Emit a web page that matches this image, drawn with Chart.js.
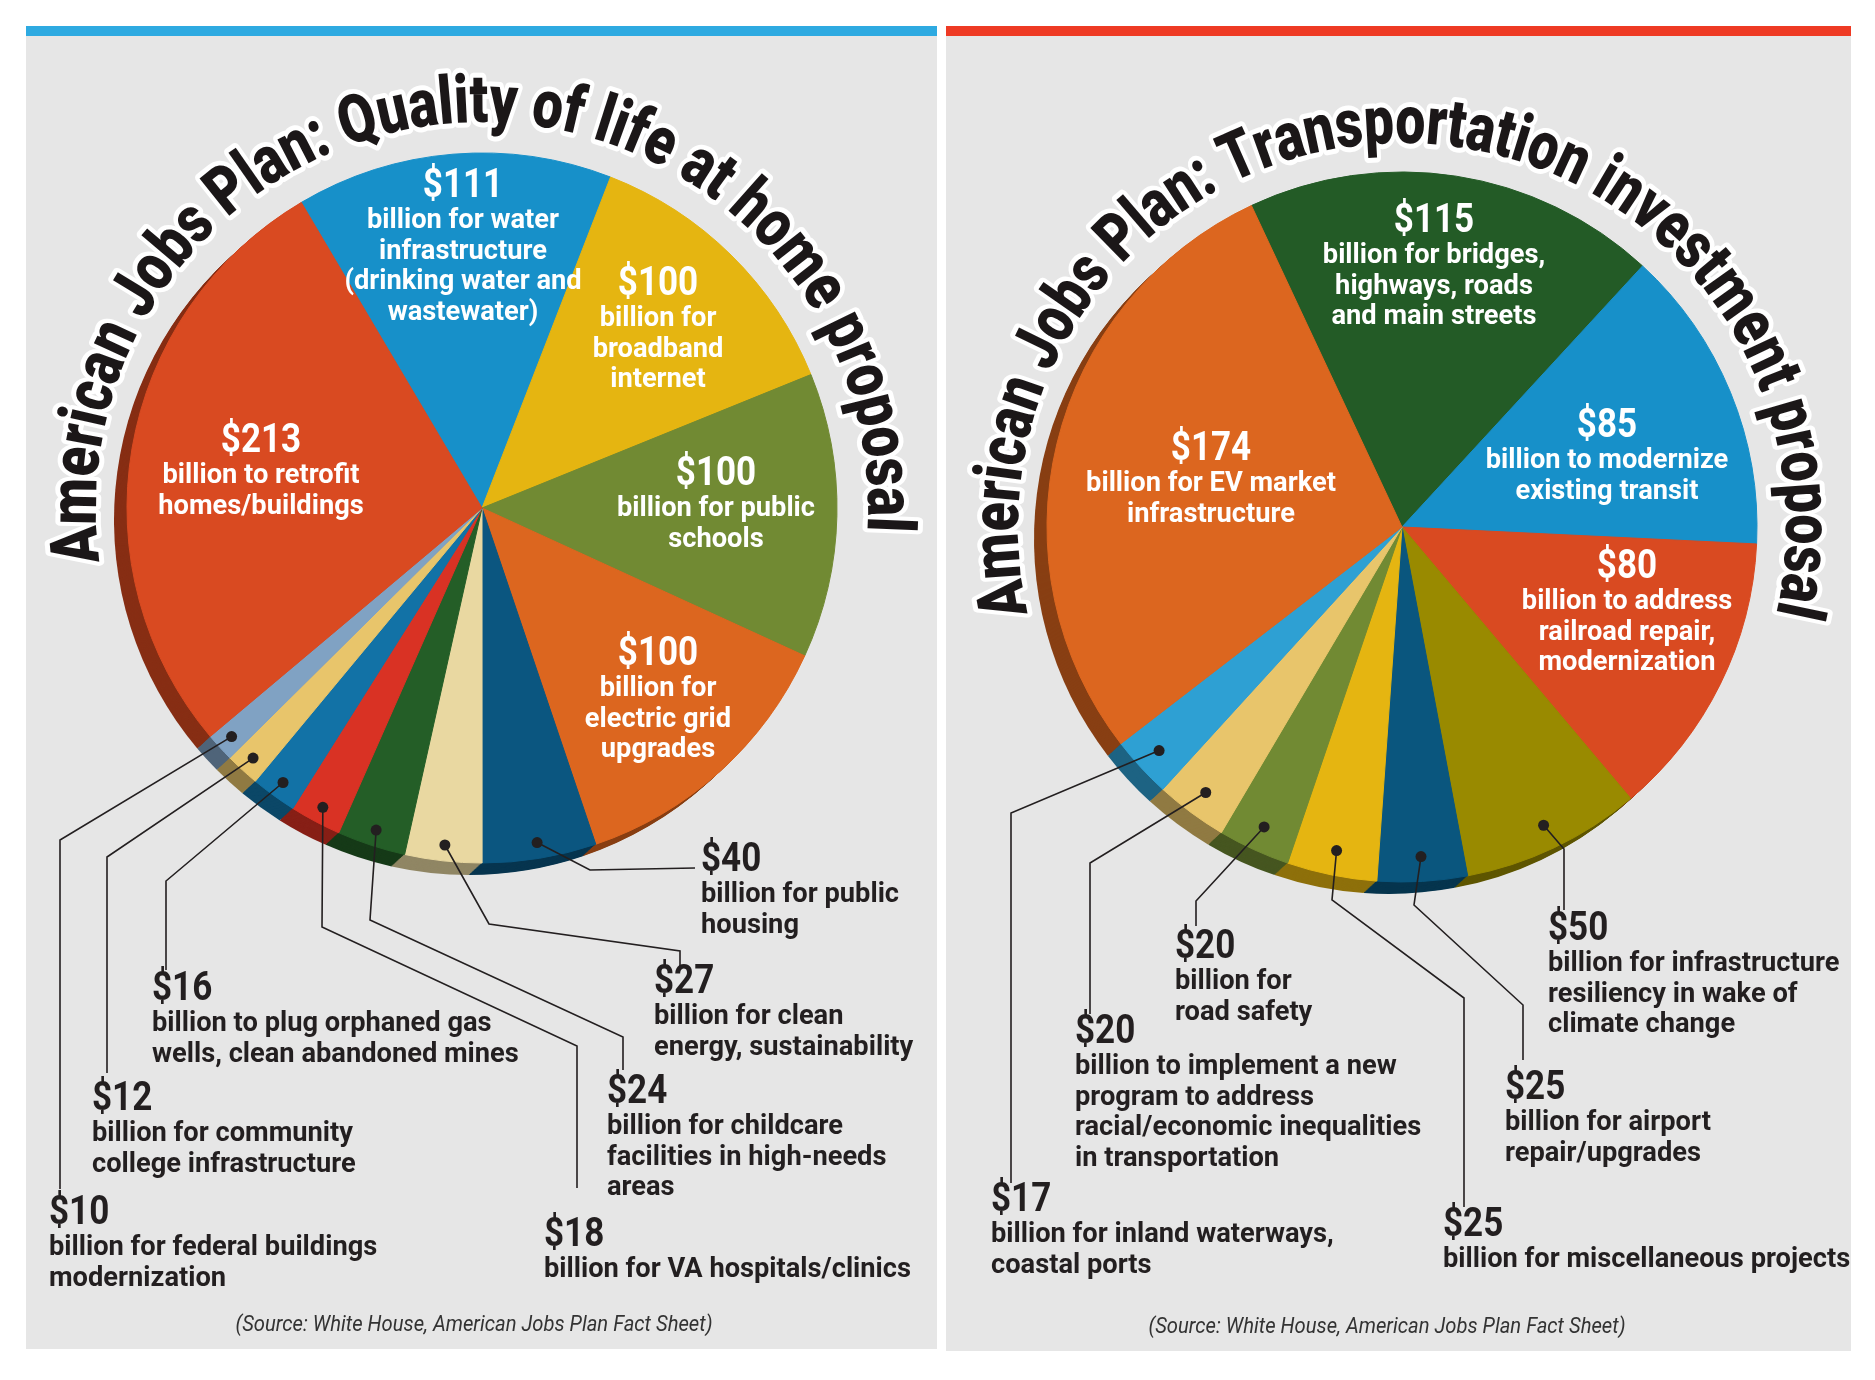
<!DOCTYPE html>
<html>
<head>
<meta charset="utf-8">
<title>American Jobs Plan</title>
<script src="https://cdn.jsdelivr.net/npm/chart.js@4.4.1/dist/chart.umd.min.js"></script>
<style>
  body { margin: 0; background: #fff; width: 1875px; height: 1380px; position: relative; overflow: hidden; }
  .panel { position: absolute; background: #e6e6e6; box-sizing: border-box; border-top: 10px solid; }
  #homePanel { left: 26px; top: 26px; width: 911px; height: 1323px; border-top-color: #2eaae1; }
  #transPanel { left: 946px; top: 26px; width: 905px; height: 1325px; border-top-color: #ee3a24; }
  canvas { position: absolute; left: 0; top: 0; }
</style>
</head>
<body>
<div class="panel" id="homePanel"></div>
<div class="panel" id="transPanel"></div>
<canvas id="homeChart" width="1875" height="1380"></canvas>
<canvas id="transChart" width="1875" height="1380"></canvas>
<script>
// ---- Quality of life at home (billions of dollars, clockwise from the top slice) ----
const homeLabels = ['Water infrastructure', 'Broadband internet', 'Public schools', 'Electric grid upgrades',
  'Public housing', 'Clean energy, sustainability', 'Childcare facilities', 'VA hospitals/clinics',
  'Orphaned gas wells, abandoned mines', 'Community college infrastructure', 'Federal buildings modernization',
  'Retrofit homes/buildings'];
const homeValues = [111, 100, 100, 100, 40, 27, 24, 18, 16, 12, 10, 213];
const homeColors = ['#1790c9', '#e5b511', '#718a33', '#dc661f', '#0b5680', '#e9d8a1',
  '#245e27', '#d93224', '#1272a6', '#e8c56b', '#80a2c3', '#d94a21'];
const homeNotes = [
  ['billion for water', 'infrastructure', '(drinking water and', 'wastewater)'],
  ['billion for', 'broadband', 'internet'],
  ['billion for public', 'schools'],
  ['billion for', 'electric grid', 'upgrades'],
  ['billion for public', 'housing'],
  ['billion for clean', 'energy, sustainability'],
  ['billion for childcare', 'facilities in high-needs', 'areas'],
  ['billion for VA hospitals/clinics'],
  ['billion to plug orphaned gas', 'wells, clean abandoned mines'],
  ['billion for community', 'college infrastructure'],
  ['billion for federal buildings', 'modernization'],
  ['billion to retrofit', 'homes/buildings']
];

// ---- Transportation investment (billions of dollars, clockwise from the top slice) ----
const transLabels = ['Bridges, highways, roads, main streets', 'Modernize existing transit', 'Railroad repair, modernization',
  'Infrastructure resiliency', 'Airport repair/upgrades', 'Miscellaneous projects', 'Road safety',
  'Racial/economic inequalities program', 'Inland waterways, coastal ports', 'EV market infrastructure'];
const transValues = [115, 85, 80, 50, 25, 25, 20, 20, 17, 174];
const transColors = ['#235b26', '#1790c9', '#d94a21', '#998a00', '#0a567e', '#e5b511',
  '#718a33', '#e8c56b', '#2ea0d3', '#dc661f'];
const transNotes = [
  ['billion for bridges,', 'highways, roads', 'and main streets'],
  ['billion to modernize', 'existing transit'],
  ['billion to address', 'railroad repair,', 'modernization'],
  ['billion for infrastructure', 'resiliency in wake of', 'climate change'],
  ['billion for airport', 'repair/upgrades'],
  ['billion for miscellaneous projects'],
  ['billion for', 'road safety'],
  ['billion to implement a new', 'program to address', 'racial/economic inequalities', 'in transportation'],
  ['billion for inland waterways,', 'coastal ports'],
  ['billion for EV market', 'infrastructure']
];

const sourceText = '(Source: White House, American Jobs Plan Fact Sheet)';

// ---- layout (page pixels) ----
const homeInner = [
  { i: 0, x: 463, y: 187 }, { i: 1, x: 658, y: 285 }, { i: 2, x: 716, y: 475 },
  { i: 3, x: 658, y: 655 }, { i: 11, x: 261, y: 442 }
];
const homeOuter = [
  { i: 4, x: 701, y: 861, path: [[590, 870], [695, 868]] },
  { i: 5, x: 654, y: 983, path: [[489, 924], [680, 951], [680, 966]] },
  { i: 6, x: 607, y: 1093, path: [[370, 920], [623, 1037], [623, 1070]] },
  { i: 7, x: 544, y: 1236, path: [[322, 927], [577, 1046], [577, 1188]] },
  { i: 8, x: 152, y: 990, path: [[166, 881], [166, 970]] },
  { i: 9, x: 92, y: 1100, path: [[107, 857], [107, 1073]] },
  { i: 10, x: 49, y: 1214, path: [[60, 840], [60, 1189]] }
];
const transInner = [
  { i: 0, x: 1434, y: 222 }, { i: 1, x: 1607, y: 427 }, { i: 2, x: 1627, y: 568 }, { i: 9, x: 1211, y: 450 }
];
const transOuter = [
  { i: 3, x: 1548, y: 930, path: [[1564, 849], [1564, 910]] },
  { i: 4, x: 1505, y: 1089, path: [[1414, 905], [1523, 1005], [1523, 1060]] },
  { i: 5, x: 1443, y: 1226, path: [[1332, 900], [1464, 998], [1464, 1207]] },
  { i: 6, x: 1175, y: 948, path: [[1196, 901], [1196, 926]] },
  { i: 7, x: 1075, y: 1033, path: [[1090, 863], [1090, 1014]] },
  { i: 8, x: 991, y: 1201, path: [[1011, 813], [1011, 1183]] }
];

const numFont = 'bold 40px Roboto';
const bodyFont = 'bold 28px Roboto';
const titleFont = '900 67px Roboto';
const ink = '#231f20';

function shade(hex, f) {
  const n = parseInt(hex.slice(1), 16);
  const r = Math.round(((n >> 16) & 255) * f), g = Math.round(((n >> 8) & 255) * f), b = Math.round((n & 255) * f);
  return 'rgb(' + r + ',' + g + ',' + b + ')';
}

// condensed text: same font squeezed horizontally
let squeeze = 0.8;
function condText(ctx, txt, x, y, align, sx) {
  ctx.save();
  ctx.translate(x, y);
  ctx.scale(sx, 1);
  ctx.textAlign = align;
  ctx.fillText(txt, 0, 0);
  ctx.restore();
}

function drawBlock(ctx, value, notes, x, y, align, color) {
  ctx.fillStyle = color;
  ctx.textBaseline = 'middle';
  ctx.font = numFont;
  condText(ctx, '$' + value, x, y, align, squeeze * 0.9);
  ctx.font = bodyFont;
  notes.forEach((t, k) => condText(ctx, t, x, y + 34 + k * 30.7, align, squeeze));
}

function arcTitle(ctx, text, cx, cy, r, startDeg, endDeg) {
  ctx.save();
  ctx.font = titleFont;
  const total = ctx.measureText(text).width;
  const sx = ((endDeg - startDeg) * Math.PI / 180) * r / total;
  ctx.textAlign = 'center';
  ctx.textBaseline = 'alphabetic';
  ctx.lineJoin = 'round';
  for (const pass of ['stroke', 'fill']) {
    let a = startDeg * Math.PI / 180;
    for (const ch of text) {
      const w = ctx.measureText(ch).width * sx;
      const mid = a + w / 2 / r;
      ctx.save();
      ctx.translate(cx, cy);
      ctx.rotate(mid);
      ctx.scale(sx, 1);
      if (pass === 'stroke') {
        ctx.strokeStyle = '#fff';
        ctx.lineWidth = 10;
        ctx.strokeText(ch, 0, -r);
      } else {
        ctx.fillStyle = '#1b1718';
        ctx.fillText(ch, 0, -r);
      }
      ctx.restore();
      a += w / r;
    }
  }
  ctx.restore();
}

// 3D rim, titles, labels and callouts
const pie3d = {
  id: 'pie3d',
  beforeDatasetsDraw(chart, args, opts) {
    const ctx = chart.ctx;
    const arcs = chart.getDatasetMeta(0).data;
    const colors = chart.data.datasets[0].backgroundColor;
    const steps = 14;
    ctx.save();
    for (let k = steps; k >= 1; k--) {
      const ox = -opts.depthX * k / steps, oy = opts.depthY * k / steps;
      arcs.forEach((a, i) => {
        const p = a.getProps(['x', 'y', 'startAngle', 'endAngle', 'outerRadius'], true);
        ctx.beginPath();
        ctx.moveTo(p.x + ox, p.y + oy);
        ctx.arc(p.x + ox, p.y + oy, p.outerRadius, p.startAngle, p.endAngle);
        ctx.closePath();
        ctx.fillStyle = shade(colors[i], 0.62);
        ctx.fill();
      });
    }
    ctx.restore();
  },
  afterDraw(chart, args, opts) {
    const ctx = chart.ctx;
    const arcs = chart.getDatasetMeta(0).data;
    const values = chart.data.datasets[0].data;
    const c = arcs[0].getProps(['x', 'y'], true);

    ctx.save();
    ctx.font = bodyFont;
    squeeze = 367 / ctx.measureText('billion for VA hospitals/clinics').width;

    arcTitle(ctx, opts.title, c.x, c.y, opts.titleR, opts.titleStart, opts.titleEnd);

    opts.inner.forEach(l => drawBlock(ctx, values[l.i], opts.notes[l.i], l.x, l.y, 'center', '#fff'));

    opts.outer.forEach(l => {
      const p = arcs[l.i].getProps(['x', 'y', 'startAngle', 'endAngle', 'outerRadius'], true);
      const mid = (p.startAngle + p.endAngle) / 2;
      const dx = p.x + Math.cos(mid) * p.outerRadius * opts.dotR;
      const dy = p.y + Math.sin(mid) * p.outerRadius * opts.dotR;
      ctx.strokeStyle = ink;
      ctx.lineWidth = 1.6;
      ctx.beginPath();
      ctx.moveTo(dx, dy);
      l.path.forEach(pt => ctx.lineTo(pt[0], pt[1]));
      ctx.stroke();
      ctx.fillStyle = ink;
      ctx.beginPath();
      ctx.arc(dx, dy, 5.5, 0, Math.PI * 2);
      ctx.fill();
      drawBlock(ctx, values[l.i], opts.notes[l.i], l.x, l.y, 'left', ink);
    });

    ctx.font = 'italic 22px Roboto';
    ctx.fillStyle = '#333';
    ctx.textBaseline = 'middle';
    const sw = ctx.measureText(sourceText).width;
    ctx.save();
    ctx.translate(opts.sourceX, opts.sourceY);
    ctx.scale(477 / sw, 1);
    ctx.textAlign = 'center';
    ctx.fillText(sourceText, 0, 0);
    ctx.restore();
    ctx.restore();
  }
};

function makePie(id, labels, values, colors, rotation, padding, extra) {
  return new Chart(document.getElementById(id), {
    type: 'pie',
    data: {
      labels: labels,
      datasets: [{
        data: values,
        backgroundColor: colors,
        borderColor: colors,
        borderWidth: 1
      }]
    },
    options: {
      responsive: false,
      animation: false,
      rotation: rotation,
      radius: 355,
      layout: { padding: padding },
      plugins: {
        legend: { display: false },
        tooltip: { enabled: false },
        pie3d: extra
      }
    },
    plugins: [pie3d]
  });
}

makePie('homeChart', homeLabels, homeValues, homeColors, -30.6,
  { left: 0, right: 911, top: 0, bottom: 364 },
  {
    title: 'American Jobs Plan: Quality of life at home proposal',
    titleR: 386, titleStart: -98, titleEnd: 93,
    notes: homeNotes, inner: homeInner, outer: homeOuter, dotR: 0.955,
    depthX: 13, depthY: 12, sourceX: 474, sourceY: 1325
  });

makePie('transChart', transLabels, transValues, transColors, -25.1,
  { left: 929, right: 0, top: 0, bottom: 326 },
  {
    title: 'American Jobs Plan: Transportation investment proposal',
    titleR: 384, titleStart: -103, titleEnd: 102.5,
    notes: transNotes, inner: transInner, outer: transOuter, dotR: 0.93,
    depthX: 13, depthY: 12, sourceX: 1387, sourceY: 1327
  });
</script>
</body>
</html>
